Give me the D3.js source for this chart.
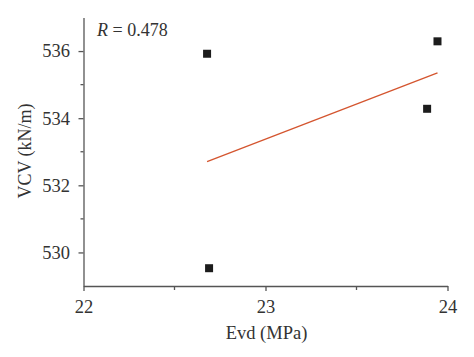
<!DOCTYPE html>
<html><head><meta charset="utf-8">
<script src="https://cdn.jsdelivr.net/npm/d3@7/dist/d3.min.js"></script>
<style>body{margin:0;background:#fff}svg text{font-family:"Liberation Serif","DejaVu Serif",serif;fill:#333}</style>
</head><body>
<svg id="c" width="474" height="357"></svg>
<script>
const evd = [22.679, 22.69, 23.888, 23.945];
const vcv = [535.92, 529.53, 534.28, 536.29];
const xTicks = [22, 23, 24];
const yTicks = [530, 532, 534, 536];
const xMinor = [22.5, 23.5];
const yMinor = [531, 533, 535];
const rLabel = "0.478";

const svg = d3.select("#c");
const x = d3.scaleLinear().domain([22, 24]).range([83.5, 447.5]);
const y = d3.scaleLinear().domain([529, 537]).range([286, 17.5]);
const axisColor = "#555";

// regression
const mx = d3.mean(evd), my = d3.mean(vcv);
let sxy = 0, sxx = 0;
evd.forEach((v, i) => { sxy += (v - mx) * (vcv[i] - my); sxx += (v - mx) ** 2; });
const b = sxy / sxx, a = my - b * mx;
const [x0, x1] = d3.extent(evd);

// axes
const gx = svg.append("g").attr("transform", `translate(0,${y(529)})`)
  .call(d3.axisBottom(x).tickValues(xTicks).tickFormat(d3.format("d")).tickSize(5).tickSizeOuter(0));
gx.selectAll(".tick text").attr("dy", "1.0em").style("font-size", "18.5px");
gx.selectAll(".minor").data(xMinor).enter().append("line").attr("class","minor")
  .attr("x1", d => x(d)).attr("x2", d => x(d)).attr("y1", 0).attr("y2", 4);

const gy = svg.append("g").attr("transform", `translate(${x(22)},0)`)
  .call(d3.axisLeft(y).tickValues(yTicks).tickFormat(d3.format("d")).tickSize(5).tickSizeOuter(0));
gy.selectAll(".tick text").attr("dx", "-0.3em").style("font-size", "18.5px");
gy.selectAll(".minor").data(yMinor).enter().append("line").attr("class","minor")
  .attr("y1", d => y(d)).attr("y2", d => y(d)).attr("x1", 0).attr("x2", -3);

svg.selectAll(".domain, .tick line, .minor").attr("stroke", axisColor).attr("stroke-width", 1.3);
svg.selectAll(".tick text").attr("fill", "#333").style("font-family", '"Liberation Serif",serif');

// regression line
svg.append("line")
  .attr("x1", x(x0)).attr("y1", y(a + b * x0))
  .attr("x2", x(x1)).attr("y2", y(a + b * x1))
  .attr("stroke", "#d4552f").attr("stroke-width", 1.3);

// points
const s = 8;
svg.selectAll(".pt").data(evd).enter().append("rect").attr("class","pt")
  .attr("x", (d) => x(d) - s/2).attr("y", (d, i) => y(vcv[i]) - s/2)
  .attr("width", s).attr("height", s).attr("fill", "#1c1c1c");

// labels
svg.append("text").attr("x", 266.5).attr("y", 338.5).attr("text-anchor", "middle")
  .style("font-size", "18.5px").text("Evd (MPa)");
svg.append("text").attr("transform", "translate(31,151) rotate(-90)").attr("text-anchor", "middle")
  .style("font-size", "18px").text("VCV (kN/m)");
const t = svg.append("text").attr("x", 97).attr("y", 36).style("font-size", "18px");
t.append("tspan").style("font-style", "italic").text("R");
t.append("tspan").text(" = " + rLabel);
</script>
</body></html>
